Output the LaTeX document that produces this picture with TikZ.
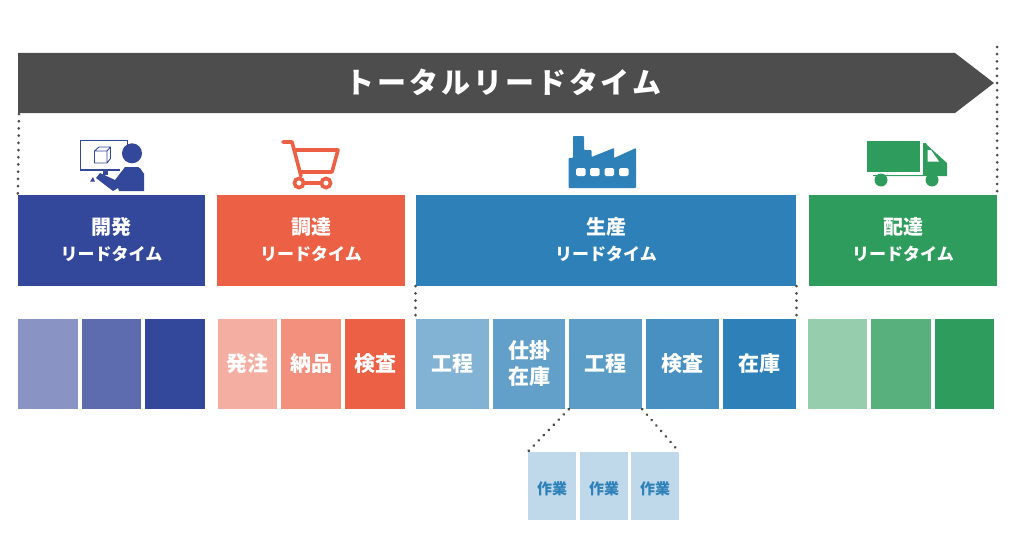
\documentclass[tikz,border=0pt]{standalone}
\usepackage{fontspec}
\setmainfont{Noto Sans CJK JP}
\definecolor{darkbar}{HTML}{4D4D4D}
\definecolor{kaihatsu}{HTML}{33479B}
\definecolor{chotatsu}{HTML}{EC6045}
\definecolor{seisan}{HTML}{2E81B8}
\definecolor{haitatsu}{HTML}{2E9C5C}
\newcommand{\leadname}[1]{{\fontsize{20}{26}\selectfont #1}}
\tikzset{
  leadbox/.style={inner sep=0pt, minimum height=91pt, text=white, align=center, font=\bfseries\fontsize{17}{26}\selectfont},
  stepbox/.style={inner sep=0pt, minimum height=90pt, text=white, align=center, font=\bfseries\fontsize{21}{26}\selectfont},
  workbox/.style={inner sep=0pt, minimum width=48pt, minimum height=68pt, fill=seisan!30, text=seisan, text height=17pt, text depth=0pt, font=\bfseries\fontsize{15}{16}\selectfont},
  dotline/.style={darkbar, line width=3pt, line cap=round, dash pattern=on 0.01pt off 7.2pt},
}
\begin{document}
\begin{tikzpicture}[x=1pt, y=-1pt]
\useasboundingbox (0,0) rectangle (1024,543);

% total bar
\fill [darkbar] (18,53)--(955,53)--(994,83)--(955,113)--(18,113)--cycle;
\node (total) at (503.5,82) [text=white, font=\bfseries\fontsize{29}{32}\selectfont\addfontfeature{LetterSpace=10}]{トータルリードタイム};
\coordinate (barleft) at (19,114);
\coordinate (barright) at (997,47);

% lead time
\node (devlead) at (111.5,240.5) [leadbox, fill=kaihatsu, minimum width=187pt]{\leadname{開発}\\リードタイム\\[-23pt]};
\node (buylead) at (311,240.5) [leadbox, fill=chotatsu, minimum width=188pt]{\leadname{調達}\\リードタイム\\[-23pt]};
\node (makelead) at (606,240.5) [leadbox, fill=seisan, minimum width=380pt]{\leadname{生産}\\リードタイム\\[-23pt]};
\node (shiplead) at (903,240.5) [leadbox, fill=haitatsu, minimum width=188pt]{\leadname{配達}\\リードタイム\\[-23pt]};

% steps
\node (dev1) at (48,364) [stepbox, fill=kaihatsu!58, minimum width=60pt]{};
\node (dev2) at (111.5,364) [stepbox, fill=kaihatsu!80, minimum width=59pt]{};
\node (dev3) at (175,364) [stepbox, fill=kaihatsu, minimum width=60pt]{};
\node (buy1) at (247.5,364) [stepbox, fill=chotatsu!50, minimum width=59pt]{発注};
\node (buy2) at (311,364) [stepbox, fill=chotatsu!70, minimum width=60pt]{納品};
\node (buy3) at (375,364) [stepbox, fill=chotatsu, minimum width=60pt]{検査};
\node (make1) at (452.5,364) [stepbox, fill=seisan!60, minimum width=73pt]{工程};
\node (make2) at (529,364) [stepbox, fill=seisan!75, minimum width=72pt]{仕掛\\在庫};
\node (make3) at (605.5,364) [stepbox, fill=seisan!78, minimum width=73pt]{工程};
\node (make4) at (682.5,364) [stepbox, fill=seisan!88, minimum width=73pt]{検査};
\node (make5) at (759.5,364) [stepbox, fill=seisan, minimum width=73pt]{在庫};
\node (ship1) at (837.5,364) [stepbox, fill=haitatsu!50, minimum width=59pt]{};
\node (ship2) at (901,364) [stepbox, fill=haitatsu!80, minimum width=60pt]{};
\node (ship3) at (964.5,364) [stepbox, fill=haitatsu, minimum width=59pt]{};

% work
\node (work1) at (552,486) [workbox]{作業};
\node (work2) at (604,486) [workbox]{作業};
\node (work3) at (655,486) [workbox]{作業};

% dotted lines
\draw [dotline] (barleft)--(devlead.north west);
\draw [dotline] (barright)--(shiplead.north east);
\draw [dotline] (makelead.south west)--(make1.north west);
\draw [dotline] (makelead.south east)--(make5.north east);
\draw [dotline] (make3.south west)--(work1.north west);
\draw [dotline] (make3.south east)--(work3.north east);

% person
\draw [kaihatsu, line width=1.7pt] (127.5,150)--(127.5,140.5)--(80.5,140.5)--(80.5,170)--(120,170);
\draw [kaihatsu, line width=.9pt] (94.5,151)--(94.5,163)--(107,163)--(107,151)--cycle (94.5,151)--(99,147)--(110.5,147)--(110.5,158.5)--(107,163) (107,151)--(110.5,147);
\fill [kaihatsu] (132,153.3) circle (10);
\fill [kaihatsu] (144,191)--(144,173) to[out=-90,in=0] (138,167)--(125,167)--(115,180)--(100,173)--(96,178)--(113,191)--(118,188)--(119,191)--cycle;
\fill [kaihatsu] (90,181.7)--(95,181.7)--(93,177)--cycle;
\fill [kaihatsu] (103,170)--(108,170)--(108,175)--(103,175)--cycle;

% cart
\draw [chotatsu, line width=3.6pt, line cap=round, line join=round] (283,142)--(292,142)--(301,176);
\draw [chotatsu, line width=3.6pt, line join=round] (293,150)--(338,150)--(332,172)--(299,172);
\draw [chotatsu, line width=3.6pt] (302,183)--(323,183);
\draw [chotatsu, line width=3.6pt, fill=white] (299,183) circle (4.6);
\draw [chotatsu, line width=3.6pt, fill=white] (326,183) circle (4.6);

% factory
\fill [seisan, rounded corners=.8pt] (568.5,188)--(568.5,158)--(573,158)--(573,136)--(584,136)--(584,150)--(591.5,150)--(591.5,157)--(614,148)--(614,158)--(636,148)--(636,188)--cycle;
\foreach \wx in {576,590,604.5,619}
  \fill [white, rounded corners=1.5pt] (\wx,168)rectangle(\wx+9.5,176);

% truck
\fill [haitatsu] (867,141)--(920,141)--(920,172)--(867,172)--cycle;
\fill [haitatsu] (923,143)--(926,143)--(927,145)--(947,163)--(947,176)--(873,176)--(873,175)--(923,175)--cycle;
\fill [white] (927.5,150)--(927.5,161.5)--(939,161.5)--(931,150)--cycle;
\fill [haitatsu] (881,180) circle (6.5);
\fill [haitatsu] (932,180) circle (6.5);
\end{tikzpicture}
\end{document}
